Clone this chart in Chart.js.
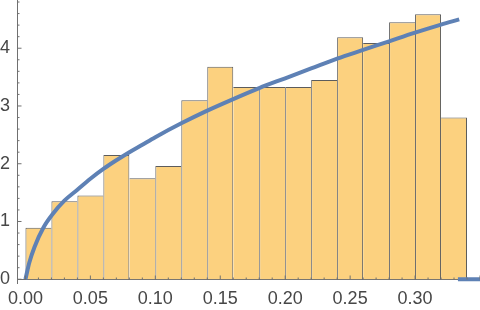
<!DOCTYPE html>
<html>
<head>
<meta charset="utf-8">
<script src="https://cdn.jsdelivr.net/npm/chart.js@4/dist/chart.umd.min.js"></script>
<style>
  html, body { margin: 0; padding: 0; background: #ffffff; }
  #wrap { width: 480px; height: 310px; }
</style>
</head>
<body>
<div id="wrap"><canvas id="c" width="480" height="310"></canvas></div>
<script>
// ---- data ----
const binCenters = [0.01, 0.03, 0.05, 0.07, 0.09, 0.11, 0.13, 0.15, 0.17, 0.19, 0.21, 0.23, 0.25, 0.27, 0.29, 0.31, 0.33];
const binHeights = [0.89, 1.35, 1.45, 2.15, 1.75, 1.96, 3.10, 3.68, 3.33, 3.33, 3.33, 3.45, 4.19, 4.09, 4.45, 4.59, 2.80];

const curveX = [0, 0.003, 0.007, 0.014, 0.021, 0.03, 0.04, 0.05, 0.06, 0.07, 0.08, 0.09, 0.10, 0.12, 0.14, 0.16, 0.18, 0.20, 0.22, 0.24, 0.26, 0.28, 0.30, 0.32, 0.334];
const curveY = [0, 0.29, 0.56, 0.90, 1.13, 1.36, 1.55, 1.74, 1.91, 2.06, 2.20, 2.33, 2.46, 2.70, 2.92, 3.12, 3.31, 3.48, 3.65, 3.82, 3.97, 4.12, 4.27, 4.41, 4.50];

const tailX = [0.333, 0.36];
const tailY = [0, 0];

const xTickValues = [0.00, 0.05, 0.10, 0.15, 0.20, 0.25, 0.30];
const yTickValues = [0, 1, 2, 3, 4];

// ---- styling ----
const BAR_FILL = '#FCD17F';
const BAR_EDGE = '#5c5c5c';
const LINE_BLUE = '#5E81B5';
const AXIS_GRAY = '#707070';
const LABEL_GRAY = '#474747';
const FONT_FAMILY = '"Liberation Sans", Arial, sans-serif';
const FONT_SIZE = 18;

const X_MIN = -0.0065, X_MAX = 0.35;
const Y_MIN = -0.065, Y_MAX = 4.835;

const barData = binCenters.map((x, i) => ({ x: x, y: binHeights[i] }));
const curveData = curveX.map((x, i) => ({ x: x, y: curveY[i] }));
const tailData = tailX.map((x, i) => ({ x: x, y: tailY[i] }));

function edgeWidths(ctx) {
  const i = ctx.dataIndex;
  const h = binHeights[i];
  const prev = i > 0 ? binHeights[i - 1] : -1;
  const next = i < binHeights.length - 1 ? binHeights[i + 1] : -1;
  return {
    left: prev <= h ? 1 : 0,
    right: next < h ? 1 : 0,
    top: 1,
    bottom: 0
  };
}

const axesPlugin = {
  id: 'mmaAxes',
  beforeDatasetsDraw(chart) {
    const { ctx, chartArea, scales } = chart;
    const y0 = Math.round(scales.y.getPixelForValue(0)) + 0.5;
    ctx.save();
    ctx.strokeStyle = AXIS_GRAY;
    ctx.lineWidth = 1;
    ctx.beginPath();
    ctx.moveTo(chartArea.left, y0);
    ctx.lineTo(chartArea.right, y0);
    ctx.stroke();
    ctx.restore();
  },
  afterDatasetsDraw(chart) {
    const { ctx, chartArea, scales } = chart;
    const xs = scales.x, ys = scales.y;
    const y0 = Math.round(ys.getPixelForValue(0)) + 0.5;
    const xl = chartArea.left + 0.5;
    ctx.save();
    ctx.strokeStyle = AXIS_GRAY;
    ctx.lineWidth = 1;
    ctx.beginPath();
    for (let k = 0; k <= 35; k++) {
      const v = k / 100;
      const px = xs.getPixelForValue(v);
      if (px < chartArea.left || px > chartArea.right) continue;
      const len = (k % 5 === 0) ? 4 : 2;
      ctx.moveTo(px, y0);
      ctx.lineTo(px, y0 - len);
    }
    for (let k = 0; k <= 24; k++) {
      const v = k / 5;
      const py = ys.getPixelForValue(v);
      if (py < chartArea.top) continue;
      const len = (k % 5 === 0) ? 4 : 2;
      ctx.moveTo(xl, py);
      ctx.lineTo(xl + len, py);
    }
    ctx.stroke();
    ctx.restore();
  }
};

new Chart(document.getElementById('c'), {
  type: 'bar',
  data: {
    datasets: [
      {
        type: 'line',
        data: curveData,
        borderColor: LINE_BLUE,
        borderWidth: 4,
        pointRadius: 0,
        cubicInterpolationMode: 'monotone',
        fill: false,
        order: 0,
        clip: false
      },
      {
        type: 'line',
        data: tailData,
        borderColor: LINE_BLUE,
        borderWidth: 4,
        pointRadius: 0,
        fill: false,
        order: 0,
        clip: false
      },
      {
        type: 'bar',
        data: barData,
        backgroundColor: BAR_FILL,
        borderColor: BAR_EDGE,
        borderWidth: edgeWidths,
        borderSkipped: false,
        barPercentage: 1,
        categoryPercentage: 1,
        inflateAmount: 0,
        order: 1
      }
    ]
  },
  options: {
    responsive: false,
    animation: false,
    devicePixelRatio: 1,
    layout: { padding: 0 },
    plugins: { legend: { display: false }, tooltip: { enabled: false } },
    scales: {
      x: {
        type: 'linear',
        min: X_MIN,
        max: X_MAX,
        offset: false,
        afterBuildTicks(scale) { scale.ticks = xTickValues.map(v => ({ value: v })); },
        afterFit(scale) { scale.height = 27; scale.paddingLeft = 0; scale.paddingRight = 0; },
        grid: { display: false, drawTicks: false },
        border: { display: false },
        ticks: {
          padding: 5,
          color: LABEL_GRAY,
          font: { family: FONT_FAMILY, size: FONT_SIZE },
          maxRotation: 0,
          autoSkip: false,
          callback: v => Number(v).toFixed(2)
        }
      },
      y: {
        type: 'linear',
        min: Y_MIN,
        max: Y_MAX,
        afterBuildTicks(scale) { scale.ticks = yTickValues.map(v => ({ value: v })); },
        afterFit(scale) { scale.width = 17; scale.paddingTop = 0; scale.paddingBottom = 0; },
        grid: { display: false, drawTicks: false },
        border: { display: true, color: AXIS_GRAY, width: 1 },
        ticks: {
          padding: 7,
          color: LABEL_GRAY,
          font: { family: FONT_FAMILY, size: FONT_SIZE },
          autoSkip: false,
          callback: v => String(v)
        }
      }
    }
  },
  plugins: [axesPlugin]
});
</script>
</body>
</html>
